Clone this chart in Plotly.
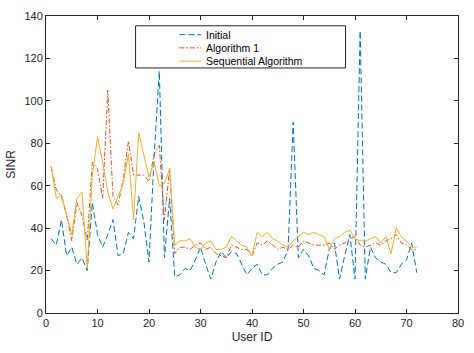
import plotly.graph_objects as go

users = list(range(1, 73))

initial = [35, 32, 44, 27, 31, 23, 26, 20, 52, 37, 31, 37, 44, 27, 28, 38, 35, 55, 43, 24,
           74, 114, 26, 54, 17, 18, 21, 20, 25, 31, 23, 16, 24, 29, 26, 29, 28, 23, 18, 21,
           23, 18, 18, 21, 23, 24, 30, 90, 26, 30, 27, 21, 20, 18, 30, 33, 16, 27, 37, 16,
           133, 16, 31, 26, 24, 23, 19, 19, 23, 25, 33, 19]

algorithm1 = [69, 58, 55, 46, 34, 52, 46, 34, 71, 68, 54, 105, 55, 51, 63, 81, 65, 65, 65, 62,
              75, 79, 44, 68, 28, 31, 31, 30, 32, 33, 30, 31, 28, 27, 26, 32, 31, 30, 30, 27,
              33, 32, 34, 32, 30, 31, 30, 32, 31, 34, 33, 32, 32, 32, 33, 30, 32, 33, 35, 36,
              32, 31, 32, 33, 32, 34, 35, 37, 33, 32, 30, 30]

sequential = [69, 54, 56, 46, 37, 54, 57, 21, 65, 83, 71, 57, 49, 55, 61, 75, 44, 85, 74, 64,
              71, 60, 61, 68, 32, 34, 34, 35, 31, 30, 33, 34, 30, 30, 31, 36, 34, 32, 31, 27,
              38, 36, 38, 35, 34, 32, 31, 34, 36, 38, 37, 38, 37, 36, 30, 35, 36, 38, 39, 35,
              34, 34, 35, 36, 33, 36, 28, 40, 36, 34, 31, 31]

series_names = ["Initial", "Algorithm 1", "Sequential Algorithm"]
series_colors = ["#0072BD", "#D95319", "#EDB120"]
series_dashes = ["6px,3px", "5px,2px,1.5px,2px", "solid"]

x_ticks = [0, 10, 20, 30, 40, 50, 60, 70, 80]
y_ticks = [0, 20, 40, 60, 80, 100, 120, 140]

FONT = "Liberation Sans, Arial, sans-serif"
AX = "#262626"

fig = go.Figure()
for name, vals, col, dash in zip(series_names, [initial, algorithm1, sequential],
                                 series_colors, series_dashes):
    fig.add_trace(go.Scatter(x=users, y=vals, mode="lines", name=name, showlegend=False,
                             line=dict(color=col, width=1, dash=dash)))

axis_common = dict(showline=True, mirror="ticks", linecolor=AX, linewidth=1,
                   ticks="inside", ticklen=4, tickcolor=AX, showgrid=False,
                   zeroline=False, tickfont=dict(family=FONT, size=11, color=AX))

fig.update_xaxes(range=[0, 80], tickvals=x_ticks,
                 title=dict(text="User ID", font=dict(family=FONT, size=12, color=AX),
                            standoff=4),
                 **axis_common)
fig.update_yaxes(range=[0, 140], tickvals=y_ticks,
                 title=dict(text="SINR", font=dict(family=FONT, size=12, color=AX),
                            standoff=6),
                 **axis_common)

# Manual legend (box, line samples, labels)
shapes = [dict(type="rect", xref="paper", yref="paper",
               x0=0.2174, x1=0.727, y0=0.825, y1=0.967,
               line=dict(color=AX, width=1), fillcolor="white", layer="above")]
annotations = []
row_y = [0.937, 0.8927, 0.848]
for name, col, dash, yy in zip(series_names, series_colors, series_dashes, row_y):
    shapes.append(dict(type="line", xref="paper", yref="paper",
                       x0=0.3237, x1=0.3768, y0=yy, y1=yy,
                       line=dict(color=col, width=1, dash=dash), layer="above"))
    annotations.append(dict(text=name, xref="paper", yref="paper", x=0.384, y=yy,
                            xanchor="left", yanchor="middle", showarrow=False,
                            font=dict(family=FONT, size=10.5, color="#000000")))

fig.update_layout(
    width=474, height=353,
    margin=dict(l=44, r=16, t=10, b=40),
    plot_bgcolor="white", paper_bgcolor="white",
    font=dict(family=FONT, size=11, color=AX),
    shapes=shapes, annotations=annotations,
    showlegend=False,
)

fig.write_html("out.html")
